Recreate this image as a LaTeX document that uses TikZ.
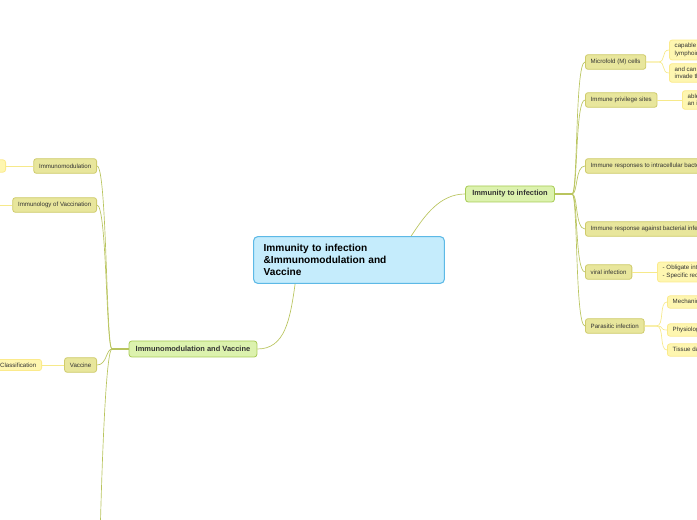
\documentclass[tikz,border=0pt]{standalone}
\usepackage{fontspec}
\setmainfont{Liberation Sans}
\definecolor{rootfill}{HTML}{C5ECFC}
\definecolor{rootdraw}{HTML}{5DB9E6}
\definecolor{mainfill}{HTML}{DCF2AE}
\definecolor{maindraw}{HTML}{A8CB55}
\definecolor{subfill}{HTML}{E8E69C}
\definecolor{subdraw}{HTML}{CFCB6C}
\definecolor{leaffill}{HTML}{FEF6B0}
\definecolor{leafdraw}{HTML}{FBEA8C}
\definecolor{lcol}{HTML}{B9C45E}
\definecolor{lcol2}{HTML}{F6E98A}
\begin{document}
\begin{tikzpicture}[x=0.75pt,y=-0.75pt,
  base/.style={rounded corners=2pt,inner xsep=4pt,inner ysep=2.5pt,font=\fontsize{4.6}{5.6}\selectfont,line width=0.6pt,text=black!80},
  rootbox/.style={base,draw=rootdraw,fill=rootfill,line width=0.8pt,font=\fontsize{7.6}{9}\selectfont\bfseries,align=left,minimum width=143pt,minimum height=35pt,text width=128pt,rounded corners=3pt,text=black},
  mainbox/.style={base,draw=maindraw,fill=mainfill,font=\fontsize{5.6}{6.6}\selectfont\bfseries,minimum height=12pt,inner xsep=5pt},
  subbox/.style={base,draw=subdraw,fill=subfill,minimum height=11pt},
  leaf/.style={base,draw=leafdraw,fill=leaffill,align=left},
  lnk/.style={draw=lcol,line width=0.5pt},
  lnk2/.style={draw=lcol2,line width=0.5pt}]
\useasboundingbox (0,0) rectangle (697,520);
\clip (0,0) rectangle (697,520);
\node[rootbox] (root) at (349,260) {Immunity to infection\\\&Immunomodulation and\\Vaccine};
\node[mainbox] (r1) at (510,194) {Immunity to infection};
\node[mainbox] (l1) at (193,349) {Immunomodulation and Vaccine};
\draw[lnk] (root.south west) ++(42,0) coordinate (rb) .. controls (290,320) and (285,349) .. (l1.east);
\draw[lnk] (root.north west) ++(158,0) coordinate (rt) .. controls (425,215) and (440,194) .. (r1.west);
% right children
\node[subbox,anchor=west] (m) at (585,62) {Microfold (M) cells};
\node[subbox,anchor=west] (p) at (585,100) {Immune privilege sites};
\node[subbox,anchor=west] (ib) at (585,166) {Immune responses to intracellular bacteria};
\node[subbox,anchor=west] (ab) at (585,229) {Immune response against bacterial infection};
\node[subbox,anchor=west] (v) at (585,272) {viral infection};
\node[subbox,anchor=west] (pa) at (585,326) {Parasitic infection};
\coordinate (rj) at (572,194);
\draw[lnk,line width=1pt] (r1.east) -- (rj);
\foreach \n in {m,p,ib,ab,v,pa}{\draw[lnk] (rj) .. controls +(6,0) and +(-10,0) .. (\n.west);}
% leaves
\node[leaf,anchor=west] (m1) at (669,50) {capable of transporting\\lymphoid tissue};
\node[leaf,anchor=west] (m2) at (669,73) {and can be used to\\invade the host};
\node[leaf,anchor=west] (p1) at (682,100) {able to tolerate\\an immune};
\node[leaf,anchor=west] (v1) at (657,272) {- Obligate intracellular\\- Specific receptors};
\node[leaf,anchor=west] (pa1) at (667,302) {Mechanical damage};
\node[leaf,anchor=west] (pa2) at (667,330) {Physiological damage};
\node[leaf,anchor=west] (pa3) at (667,350) {Tissue damage};
\foreach \a/\b in {m/m1,m/m2,pa/pa1,pa/pa2,pa/pa3}{\draw[lnk2] (\a.east) -- ++(12,0) .. controls +(8,0) and +(-8,0) .. (\b.west);}
\draw[lnk2] (p.east) -- (p1.west);
\draw[lnk2] (v.east) -- (v1.west);
% left
\node[subbox,anchor=east] (im) at (97,166) {Immunomodulation};
\node[subbox,anchor=east] (iv) at (97,205) {Immunology of Vaccination};
\node[subbox,anchor=east] (va) at (97,365) {Vaccine};
\node[leaf,anchor=east] (im1) at (6,166) {Immunopotentiating};
\node[leaf,anchor=east] (iv1) at (-2,205) {Types of immunity};
\node[leaf,anchor=east] (va1) at (42,365) {Classification};
\coordinate (lj) at (112,349);
\coordinate (ld) at (100,540);
\draw[lnk,line width=1pt] (l1.west) -- (lj);
\foreach \n in {im,iv,va}{\draw[lnk] (lj) .. controls +(-6,0) and +(10,0) .. (\n.east);}
\draw[lnk] (lj) .. controls +(-6,0) and +(2,-80) .. (ld);
\draw[lnk2] (im.west) -- (im1.east);
\draw[lnk2] (iv.west) -- (iv1.east);
\draw[lnk2] (va.west) -- (va1.east);
\end{tikzpicture}
\end{document}
